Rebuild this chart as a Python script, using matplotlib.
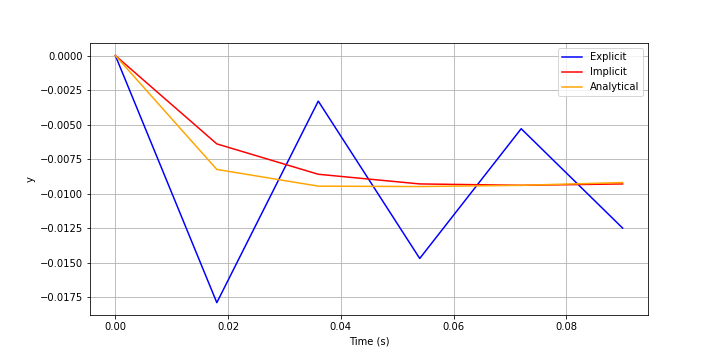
import numpy as np
import matplotlib
matplotlib.use("Agg")
import matplotlib.pyplot as plt

t = [0.0, 0.018, 0.036, 0.054, 0.072, 0.09]
y_explicit = [0.0, -0.0179, -0.0033, -0.0147, -0.0053, -0.0125]
y_implicit = [0.0, -0.0064, -0.0086, -0.0093, -0.0094, -0.0093]
y_analytical = [0.0, -0.00825, -0.00946, -0.00949, -0.0094, -0.0092]

fig, ax = plt.subplots(figsize=(10, 5), dpi=72)
fig.subplots_adjust(bottom=0.125, top=0.88)
ax.plot(t, y_explicit, color="blue", label="Explicit")
ax.plot(t, y_implicit, color="red", label="Implicit")
ax.plot(t, y_analytical, color="orange", label="Analytical")
ax.set_xlabel("Time (s)")
ax.set_ylabel("y")
ax.grid(True)
ax.legend(loc="upper right")
fig.savefig("out.png")
